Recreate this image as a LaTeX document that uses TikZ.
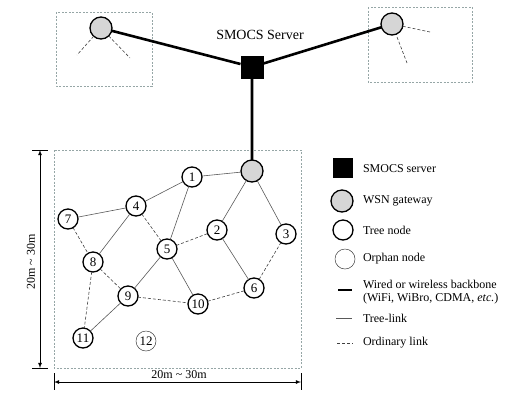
\documentclass[tikz,border=0pt]{standalone}
\usepackage{fontspec}
\setmainfont{Liberation Serif}
\definecolor{areagray}{RGB}{150,166,166}
\begin{document}
\begin{tikzpicture}
	[x=1pt,y=-1pt,
	every node/.style={inner sep=1pt,outer sep=0},
	tree/.style={shape=circle,draw,line width=1.3pt,fill=white,minimum size=20pt,inner sep=0pt,font=\fontsize{13}{13}\selectfont},
	orphan/.style={tree,line width=.5pt,draw=black!75},
	gateway/.style={shape=circle,draw,line width=1.3pt,fill=black!16,minimum size=22pt},
	server/.style={shape=rectangle,fill=black,minimum size=23pt},
	treelink/.style={line width=.6pt,color=black!65},
	ordlink/.style={line width=.6pt,color=black!75,dash pattern=on 3pt off 2pt},
	backbone/.style={line width=2.6pt},
	area/.style={draw=areagray,line width=.5pt,dash pattern=on 2pt off 1.5pt},
	dimline/.style={line width=.8pt,latex-latex},
	dimtext/.style={font=\fontsize{12}{12}\selectfont},
	legtext/.style={anchor=west,font=\fontsize{12}{13.5}\selectfont}]
	\useasboundingbox (0,0) rectangle (518,400);
	% sensor areas
	\draw[area] (56,12) rectangle (152,86);
	\draw[area] (368,7) rectangle (472,82);
	\draw[area] (54,150) rectangle (301,368);
	% server and gateways
	\node[server]  (srv)  at (252,67)  {} ;
	\node[font=\fontsize{14}{14}\selectfont] (srvlabel) at (260,35) {SMOCS Server} ;
	\node[gateway] (gwl)  at (101,28)  {} ;
	\node[gateway] (gwr)  at (392,24)  {} ;
	\node[gateway] (gw)   at (252,171) {} ;
	\coordinate (gwla) at (77,55) ;
	\coordinate (gwlb) at (130,58) ;
	\coordinate (gwra) at (430,32) ;
	\coordinate (gwrb) at (407,63) ;
	% tree nodes
	\node[tree]   (n1)  at (192,177) {1} ;
	\node[tree]   (n2)  at (217,230) {2} ;
	\node[tree]   (n3)  at (286,234) {3} ;
	\node[tree]   (n4)  at (136,206) {4} ;
	\node[tree]   (n5)  at (167,249) {5} ;
	\node[tree]   (n6)  at (254,288) {6} ;
	\node[tree]   (n7)  at (68,219)  {7} ;
	\node[tree]   (n8)  at (93,262)  {8} ;
	\node[tree]   (n9)  at (128,296) {9} ;
	\node[tree]   (n10) at (198,304) {10} ;
	\node[tree]   (n11) at (83,338)  {11} ;
	\node[orphan] (n12) at (146,341) {12} ;
	% links
	\draw[backbone] (gwl) -- (srv) -- (gwr) (srv) -- (gw) ;
	\draw[ordlink,shorten <=3pt] (gwl) -- (gwla) (gwl) -- (gwlb)
	(gwr) -- (gwra) (gwr) -- (gwrb) ;
	\draw[treelink]
	(gw) -- (n1) (gw) -- (n2) (gw) -- (n3)
	(n1) -- (n4) (n1) -- (n5) (n4) -- (n7) (n4) -- (n8)
	(n5) -- (n9) (n5) -- (n10) (n2) -- (n6) (n9) -- (n11) ;
	\draw[ordlink]
	(n4) -- (n5) (n5) -- (n2) (n7) -- (n8) (n8) -- (n9)
	(n8) -- (n11) (n9) -- (n10) (n10) -- (n6) (n6) -- (n3) ;
	% dimensions
	\coordinate (vt) at (40,150) ; \coordinate (vb) at (40,368) ;
	\coordinate (hl) at (54,382) ; \coordinate (hr) at (301,382) ;
	\draw[line width=.5pt] (32,150) -- (48,150) (32,368) -- (48,368)
	(54,373) -- (54,390) (301,373) -- (301,390) ;
	\draw[dimline] (vt) -- (vb) ;
	\draw[dimline] (hl) -- (hr) ;
	\node[dimtext,rotate=90] (vlabel) at (31,262) {20m \textasciitilde{} 30m} ;
	\node[dimtext] (hlabel) at (179,375) {20m \textasciitilde{} 30m} ;
	% legend
	\node[server,minimum size=20pt] (lsrv) at (343,168) {} ;
	\node[legtext] (tsrv) at (362,169) {SMOCS server} ;
	\node[gateway] (lgw) at (342,201) {} ;
	\node[legtext] (tgw) at (362,201) {WSN gateway} ;
	\node[tree] (ltree) at (343,230) {} ;
	\node[legtext] (ttree) at (362,230) {Tree node} ;
	\node[orphan] (lorph) at (345,259) {} ;
	\node[legtext] (torph) at (362,259) {Orphan node} ;
	\coordinate (lbba) at (338,290) ; \coordinate (lbbb) at (352,290) ;
	\draw[backbone] (lbba) -- (lbbb) ;
	\node[legtext,align=left] (tbb) at (362,292) {Wired or wireless backbone\\(WiFi, WiBro, CDMA, \textit{etc.})} ;
	\coordinate (ltla) at (336,318) ; \coordinate (ltlb) at (352,318) ;
	\draw[treelink] (ltla) -- (ltlb) ;
	\node[legtext] (ttl) at (362,318) {Tree-link} ;
	\coordinate (lola) at (337,343) ; \coordinate (lolb) at (353,343) ;
	\draw[ordlink] (lola) -- (lolb) ;
	\node[legtext] (tol) at (362,343) {Ordinary link} ;
\end{tikzpicture}
\end{document}
